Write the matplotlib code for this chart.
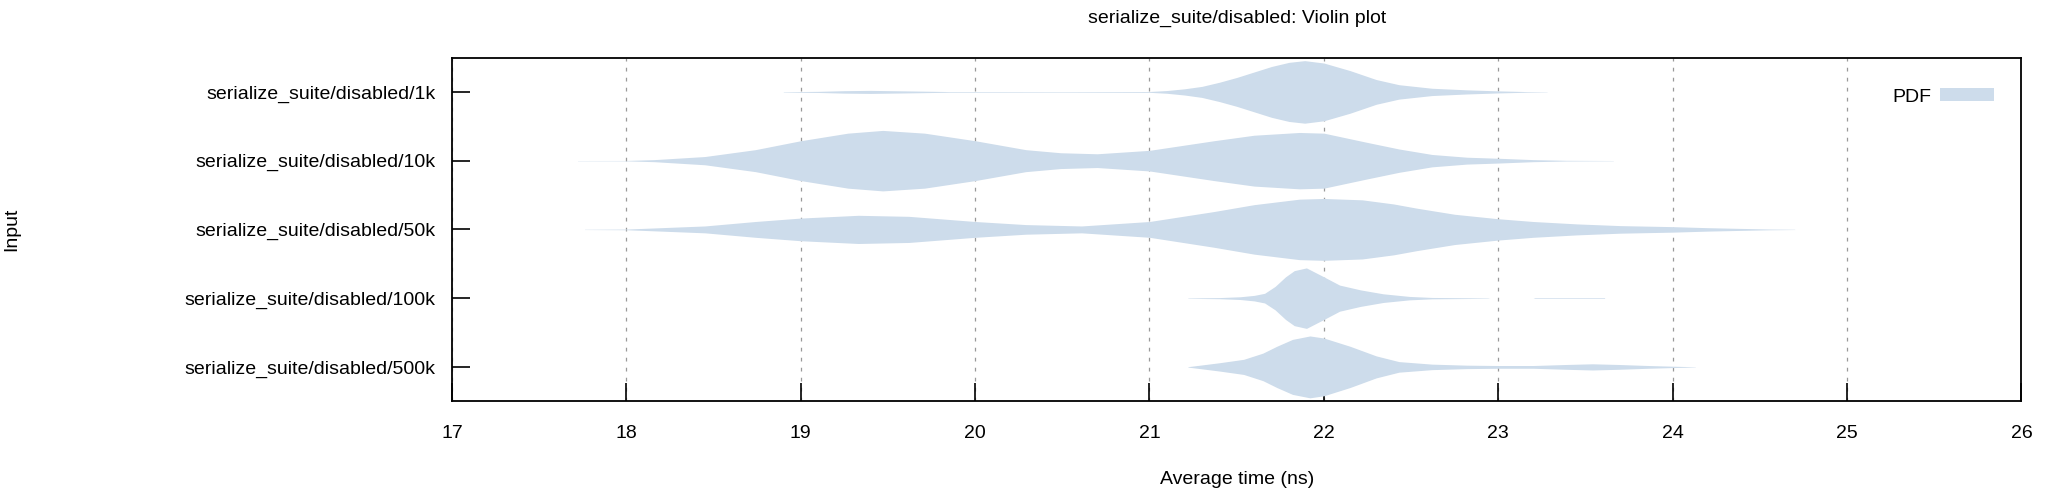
import matplotlib.pyplot as plt

# Benchmark inputs (top to bottom)
inputs = [
    "serialize_suite/disabled/1k",
    "serialize_suite/disabled/10k",
    "serialize_suite/disabled/50k",
    "serialize_suite/disabled/100k",
    "serialize_suite/disabled/500k",
]

# Violin profiles: time (ns) and half-width (in row units)
t_1k = [18.90, 19.10, 19.25, 19.40, 19.60, 19.85, 20.50, 21.00, 21.10, 21.20,
        21.30, 21.40, 21.50, 21.60, 21.70, 21.80, 21.89, 22.00, 22.15, 22.30,
        22.43, 22.62, 22.82, 23.00, 23.16, 23.28]
w_1k = [0.003, 0.008, 0.018, 0.022, 0.015, 0.005, 0.004, 0.006, 0.02, 0.045,
        0.08, 0.14, 0.21, 0.29, 0.37, 0.43, 0.455, 0.42, 0.31, 0.18,
        0.105, 0.053, 0.03, 0.015, 0.005, 0.002]

t_10k = [17.72, 18.00, 18.16, 18.45, 18.74, 19.00, 19.27, 19.47, 19.71, 20.00,
         20.29, 20.49, 20.70, 21.00, 21.37, 21.60, 21.86, 22.00, 22.24, 22.43,
         22.62, 22.82, 23.00, 23.20, 23.39, 23.66]
w_10k = [0.002, 0.003, 0.015, 0.06, 0.16, 0.29, 0.40, 0.44, 0.40, 0.29,
         0.16, 0.115, 0.10, 0.15, 0.29, 0.37, 0.41, 0.40, 0.27, 0.17,
         0.09, 0.05, 0.035, 0.015, 0.005, 0.002]

t_50k = [17.76, 18.00, 18.45, 18.74, 19.00, 19.33, 19.62, 20.00, 20.29, 20.61,
         21.00, 21.37, 21.60, 21.86, 22.00, 22.22, 22.40, 22.53, 22.75, 23.00,
         23.20, 23.45, 23.70, 24.00, 24.20, 24.38, 24.55, 24.70]
w_50k = [0.002, 0.005, 0.05, 0.115, 0.165, 0.205, 0.19, 0.115, 0.07, 0.05,
         0.115, 0.26, 0.36, 0.44, 0.45, 0.43, 0.37, 0.31, 0.22, 0.155,
         0.115, 0.08, 0.055, 0.04, 0.025, 0.015, 0.006, 0.002]

t_100k = [21.22, 21.40, 21.52, 21.60, 21.66, 21.72, 21.78, 21.83, 21.90, 22.00,
          22.09, 22.21, 22.34, 22.49, 22.62, 22.94, 22.95, 23.20, 23.21, 23.61]
w_100k = [0.003, 0.008, 0.02, 0.04, 0.07, 0.17, 0.31, 0.40, 0.44, 0.31,
          0.19, 0.12, 0.063, 0.025, 0.01, 0.003, 0.0, 0.0, 0.005, 0.005]

t_500k = [21.22, 21.29, 21.40, 21.54, 21.65, 21.73, 21.82, 21.92, 22.00, 22.15,
          22.30, 22.43, 22.62, 22.82, 23.00, 23.20, 23.39, 23.54, 23.69, 23.86,
          24.00, 24.13]
w_500k = [0.003, 0.025, 0.06, 0.11, 0.20, 0.30, 0.40, 0.45, 0.42, 0.30,
          0.16, 0.077, 0.04, 0.025, 0.02, 0.02, 0.035, 0.045, 0.035, 0.02,
          0.01, 0.002]

times = [t_1k, t_10k, t_50k, t_100k, t_500k]
widths = [w_1k, w_10k, w_50k, w_100k, w_500k]

plt.rcParams["font.family"] = ["Liberation Sans", "DejaVu Sans"]
fig = plt.figure(figsize=(20.48, 4.96), dpi=100)
ax = fig.add_axes([0.2207, 0.191, 0.987 - 0.2207, 0.884 - 0.191])

fill = "#cddceb"
for i, (t, w) in enumerate(zip(times, widths)):
    lo = [i - v for v in w]
    hi = [i + v for v in w]
    ax.fill_between(t, lo, hi, color=fill, linewidth=0,
                    label="PDF" if i == 0 else None)

ax.set_xlim(17, 26)
ax.set_ylim(len(inputs) - 0.5, -0.5)
ax.set_xticks(range(17, 27))
ax.set_yticks(range(len(inputs)))
ax.set_yticklabels(inputs)

ax.tick_params(axis="both", direction="in", length=13, width=1.2,
               labelsize=14, top=False, right=False)
ax.tick_params(axis="x", pad=17)
ax.tick_params(axis="y", pad=12)
for s in ax.spines.values():
    s.set_linewidth(1.3)

ax.xaxis.grid(True, linestyle=(0, (3, 5)), color="#999999", linewidth=0.9)
ax.set_axisbelow(True)

ax.set_title("serialize_suite/disabled: Violin plot", fontsize=14, pad=25)
ax.set_xlabel("Average time (ns)", fontsize=14, labelpad=21)
ax.set_ylabel("Input", fontsize=14, labelpad=118)

ax.legend(loc="upper right", frameon=False, markerfirst=False,
          fontsize=14, handlelength=2.8, handleheight=0.67,
          handletextpad=0.45, borderaxespad=1.0,
          bbox_to_anchor=(1.0, 0.99))

plt.savefig("out.png", dpi=100)
